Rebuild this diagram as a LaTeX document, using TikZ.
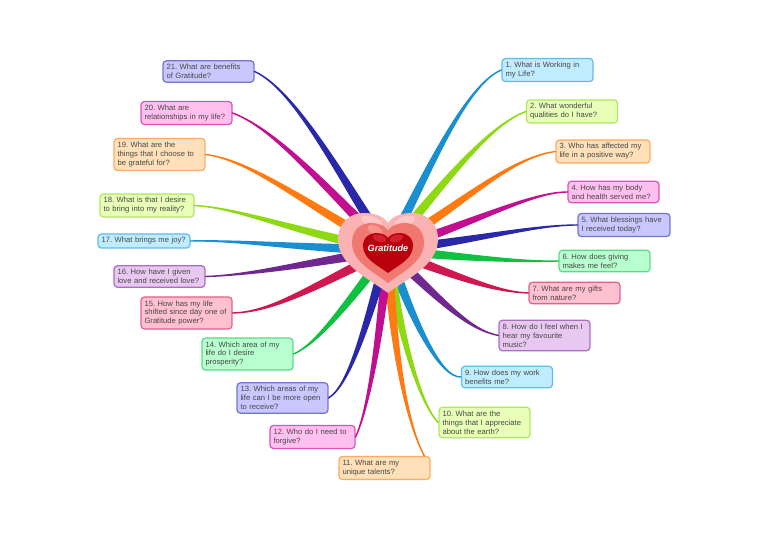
\documentclass[tikz,border=0pt]{standalone}
\usepackage{fontspec}
\setmainfont{Liberation Sans}
\usetikzlibrary{calc}
\definecolor{lineblue}{HTML}{1A8FD0}
\definecolor{linelime}{HTML}{8FD814}
\definecolor{lineorange}{HTML}{FF7A10}
\definecolor{linemagenta}{HTML}{C0108F}
\definecolor{linenavy}{HTML}{2828A8}
\definecolor{linegreen}{HTML}{10C040}
\definecolor{linecrimson}{HTML}{D01850}
\definecolor{linepurple}{HTML}{702890}
\tikzset{
    qbox/.style={rectangle,rounded corners=0.07cm,line width=0.7pt,inner xsep=0.07cm,inner ysep=2pt,
        text width=1.68cm,align=left,text=black!72,font=\fontsize{4.35}{5.1}\selectfont\frenchspacing},
    qblue/.style={qbox,fill={rgb,255:red,192;green,236;blue,255},draw={rgb,255:red,96;green,188;blue,232}},
    qlime/.style={qbox,fill={rgb,255:red,232;green,255;blue,184},draw={rgb,255:red,176;green,230;blue,96}},
    qorange/.style={qbox,fill={rgb,255:red,255;green,224;blue,184},draw={rgb,255:red,255;green,170;blue,96}},
    qmagenta/.style={qbox,fill={rgb,255:red,255;green,192;blue,240},draw={rgb,255:red,216;green,84;blue,188}},
    qnavy/.style={qbox,fill={rgb,255:red,200;green,200;blue,255},draw={rgb,255:red,116;green,116;blue,208}},
    qgreen/.style={qbox,fill={rgb,255:red,184;green,255;blue,208},draw={rgb,255:red,96;green,216;blue,140}},
    qcrimson/.style={qbox,fill={rgb,255:red,255;green,192;blue,208},draw={rgb,255:red,228;green,96;blue,140}},
    qpurple/.style={qbox,fill={rgb,255:red,232;green,200;blue,240},draw={rgb,255:red,170;green,110;blue,194}},
}
\newcommand{\branch}[4]{%
    \fill[#4,draw=#4,line width=0.8pt,line join=round] (#1) .. controls (#2) and ($(#3)!0.065cm!-90:(hub)$) ..
        ($(hub)!0.09cm!90:(#3)$) -- ($(hub)!0.09cm!-90:(#3)$) .. controls ($(#3)!0.065cm!90:(hub)$) and (#2) .. (#1) -- cycle;
}
\newcommand{\heartpath}{(0,40) .. controls (-20,25) and (-50,12) .. (-50,-14) .. controls (-50,-32) and (-36,-40) .. (-24,-40)
    .. controls (-12,-40) and (-4,-36) .. (0,-30) .. controls (4,-36) and (12,-40) .. (24,-40)
    .. controls (36,-40) and (50,-32) .. (50,-14) .. controls (50,12) and (20,25) .. (0,40) -- cycle}
\begin{document}
\begin{tikzpicture}[x=0.02cm,y=-0.02cm]
    \useasboundingbox (0,0) rectangle (768,543);
    \coordinate (hub) at (388,250);
    \node[qblue] (q1) at (547.5,70) {1. What is Working in\\my Life?};
    \node[qlime] (q2) at (572,111.5) {2. What wonderful\\qualities do I have?};
    \node[qorange,text width=1.74cm] (q3) at (603,151.5) {3. Who has affected my\\life in a positive way?};
    \node[qmagenta] (q4) at (613.5,192) {4. How has my body\\and health served me?};
    \node[qnavy,text width=1.70cm] (q5) at (624,225) {5. What blessings have\\I received today?};
    \node[qgreen] (q6) at (604.5,261) {6. How does giving\\makes me feel?};
    \node[qcrimson] (q7) at (574.5,293) {7. What are my gifts\\from nature?};
    \node[qpurple] (q8) at (544.5,335.5) {8. How do I feel when I\\hear my favourite\\music?};
    \node[qblue] (q9) at (507,377) {9. How does my work\\benefits me?};
    \node[qlime] (q10) at (484.5,422.5) {10. What are the\\things that I appreciate\\about the earth?};
    \node[qorange] (q11) at (384.5,468) {11. What are my\\unique talents?};
    \node[qmagenta,text width=1.56cm] (q12) at (312.5,437) {12. Who do I need to\\forgive?};
    \node[qnavy] (q13) at (282.5,398) {13. Which areas of my\\life can I be more open\\to receive?};
    \node[qgreen] (q14) at (247.5,354) {14. Which area of my\\life do I desire\\prosperity?};
    \node[qcrimson] (q15) at (186.5,313) {15. How has my life\\shifted since day one of\\Gratitude power?};
    \node[qpurple] (q16) at (159.5,276.5) {16. How have I given\\love and received love?};
    \node[qblue,text width=1.7cm] (q17) at (144,241) {17. What brings me joy?};
    \node[qlime,text width=1.74cm] (q18) at (147,205.5) {18. What is that I desire\\to bring into my reality?};
    \node[qorange] (q19) at (159.5,154.5) {19. What are the\\things that I choose to\\be grateful for?};
    \node[qmagenta] (q20) at (186.5,113) {20. What are\\relationships in my life?};
    \node[qnavy] (q21) at (208.5,71.5) {21. What are benefits\\of Gratitude?};
    \branch{q1.west}{465,85}{425,178}{lineblue}
    \branch{q2.west}{490,125}{450,175}{linelime}
    \branch{q3.west}{510,158}{470,198}{lineorange}
    \branch{q4.west}{530,192}{470,225}{linemagenta}
    \branch{q5.west}{530,225}{470,242}{linenavy}
    \branch{q6.west}{520,262}{470,258}{linegreen}
    \branch{q7.west}{500,292}{470,282}{linecrimson}
    \branch{q8.west}{470,330}{445,305}{linepurple}
    \branch{q9.west}{440,378}{412,320}{lineblue}
    \branch{q10.west}{420,405}{398,330}{linelime}
    \branch{q11.17}{405,420}{392,340}{lineorange}
    \branch{q12.east}{368,410}{380,340}{linemagenta}
    \branch{q13.east}{350,385}{368,320}{linenavy}
    \branch{q14.east}{315,345}{343,310}{linegreen}
    \branch{q15.east}{270,312}{305,292}{linecrimson}
    \branch{q16.east}{250,275}{300,265}{linepurple}
    \branch{q17.east}{240,240}{300,248}{lineblue}
    \branch{q18.east}{240,208}{295,232}{linelime}
    \branch{q19.east}{250,160}{300,200}{lineorange}
    \branch{q20.east}{272,128}{315,175}{linemagenta}
    \branch{q21.east}{295,90}{340,175}{linenavy}
    \begin{scope}[shift={(388,253)}]
        \fill[fill={rgb,255:red,250;green,178;blue,178}] \heartpath;
        \fill[fill={rgb,255:red,255;green,200;blue,200},rotate=-20] (-26,-24) ellipse (11 and 5);
        \fill[fill={rgb,255:red,255;green,200;blue,200},rotate=20] (26,-24) ellipse (11 and 5);
        \begin{scope}[xscale=0.72,yscale=0.75]
            \fill[fill={rgb,255:red,240;green,120;blue,112}] \heartpath;
            \fill[fill={rgb,255:red,246;green,150;blue,140},rotate=-25] (-29,-20) ellipse (11 and 6);
        \end{scope}
        \begin{scope}[xscale=0.5,yscale=0.5]
            \fill[fill={rgb,255:red,185;green,0;blue,12}] \heartpath;
            \fill[fill={rgb,255:red,210;green,32;blue,48},rotate=-15] (-24,-24) ellipse (14 and 7);
            \fill[fill={rgb,255:red,210;green,32;blue,48},rotate=15] (24,-24) ellipse (14 and 7);
        \end{scope}
    \end{scope}
    \node[text=white,inner sep=0pt,font=\fontsize{5.2}{6}\selectfont\bfseries\itshape] (heart) at (388,248) {Gratitude};
\end{tikzpicture}
\end{document}
